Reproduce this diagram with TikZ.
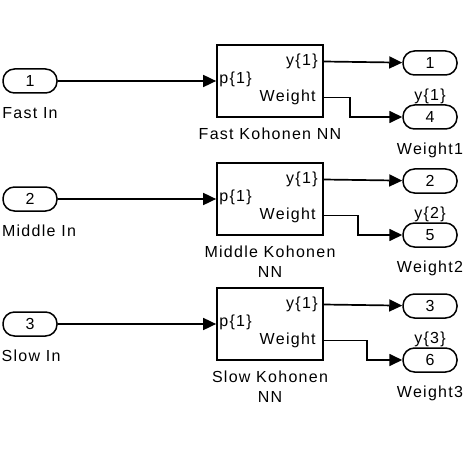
\documentclass[tikz,border=0pt]{standalone}
\usepackage{fontspec}
\setmainfont{Liberation Sans}[LetterSpace=8]
\usetikzlibrary{arrows.meta,positioning}
\tikzset{
  port/.style={draw,line width=1.5pt,rounded corners=11.5pt,minimum width=54pt,minimum height=24pt,inner sep=0pt},
  blk/.style={draw,line width=1.7pt,minimum width=106pt,minimum height=72pt,inner sep=0pt},
  ptxt/.style={inner sep=0pt},
  sig/.style={line width=1.7pt,-{Triangle[length=13pt,width=12pt]}}
}
\begin{document}
\begin{tikzpicture}[x=1pt,y=-1pt,font=\fontsize{16}{20}\selectfont]
\fill[white] (0,0) rectangle (470,470);
\useasboundingbox (0,0) rectangle (470,470);
\foreach \i/\yc/\inname/\dx/\blkname/\oy/\ow/\bx in {1/81/Fast In/0/Fast Kohonen NN/1/4/350,
  2/199/Middle In/9/{Middle Kohonen\\NN}/2/5/358,
  3/324/Slow In/1/{Slow Kohonen\\NN}/3/6/367}{
  % Eingang
  \node[port] (in\i) at (30,\yc) {\i};
  \path (in\i.south) ++(\dx,24.5) node[anchor=base,ptxt] (inl\i) {\inname};
  % Block
  \node[blk] (blk\i) at (270,\yc) {};
  \node[ptxt,align=center,below=10pt of blk\i] (blkl\i) {\blkname};
  \node[ptxt,anchor=mid west] (tp\i) at ([xshift=3pt]blk\i.west) {p\{1\}};
  \node[ptxt,anchor=mid east] (ty\i) at ([xshift=-6pt,yshift=18pt]blk\i.east) {y\{1\}};
  \node[ptxt,anchor=mid east] (tw\i) at ([xshift=-8pt,yshift=-18pt]blk\i.east) {Weight};
  % Ausgaenge
  \node[port] (oy\i) at (430,\yc-18) {\oy};
  \node[port] (ow\i) at (430,\yc+36) {\ow};
  \path (oy\i.south) ++(0,24.5) node[anchor=base,ptxt] (oyl\i) {y\{\i\}};
  \path (ow\i.south) ++(0,24.5) node[anchor=base,ptxt] (owl\i) {Weight\i};
  \coordinate (k\i) at (\bx,\yc+36);
  % Linien
  \draw[sig] (in\i) -- (blk\i);
  \draw[sig] (blk\i.east |- ty\i) -- (oy\i);
  \draw[sig] (blk\i.east |- tw\i) -| (k\i) -- (ow\i);
}
\end{tikzpicture}
\end{document}
